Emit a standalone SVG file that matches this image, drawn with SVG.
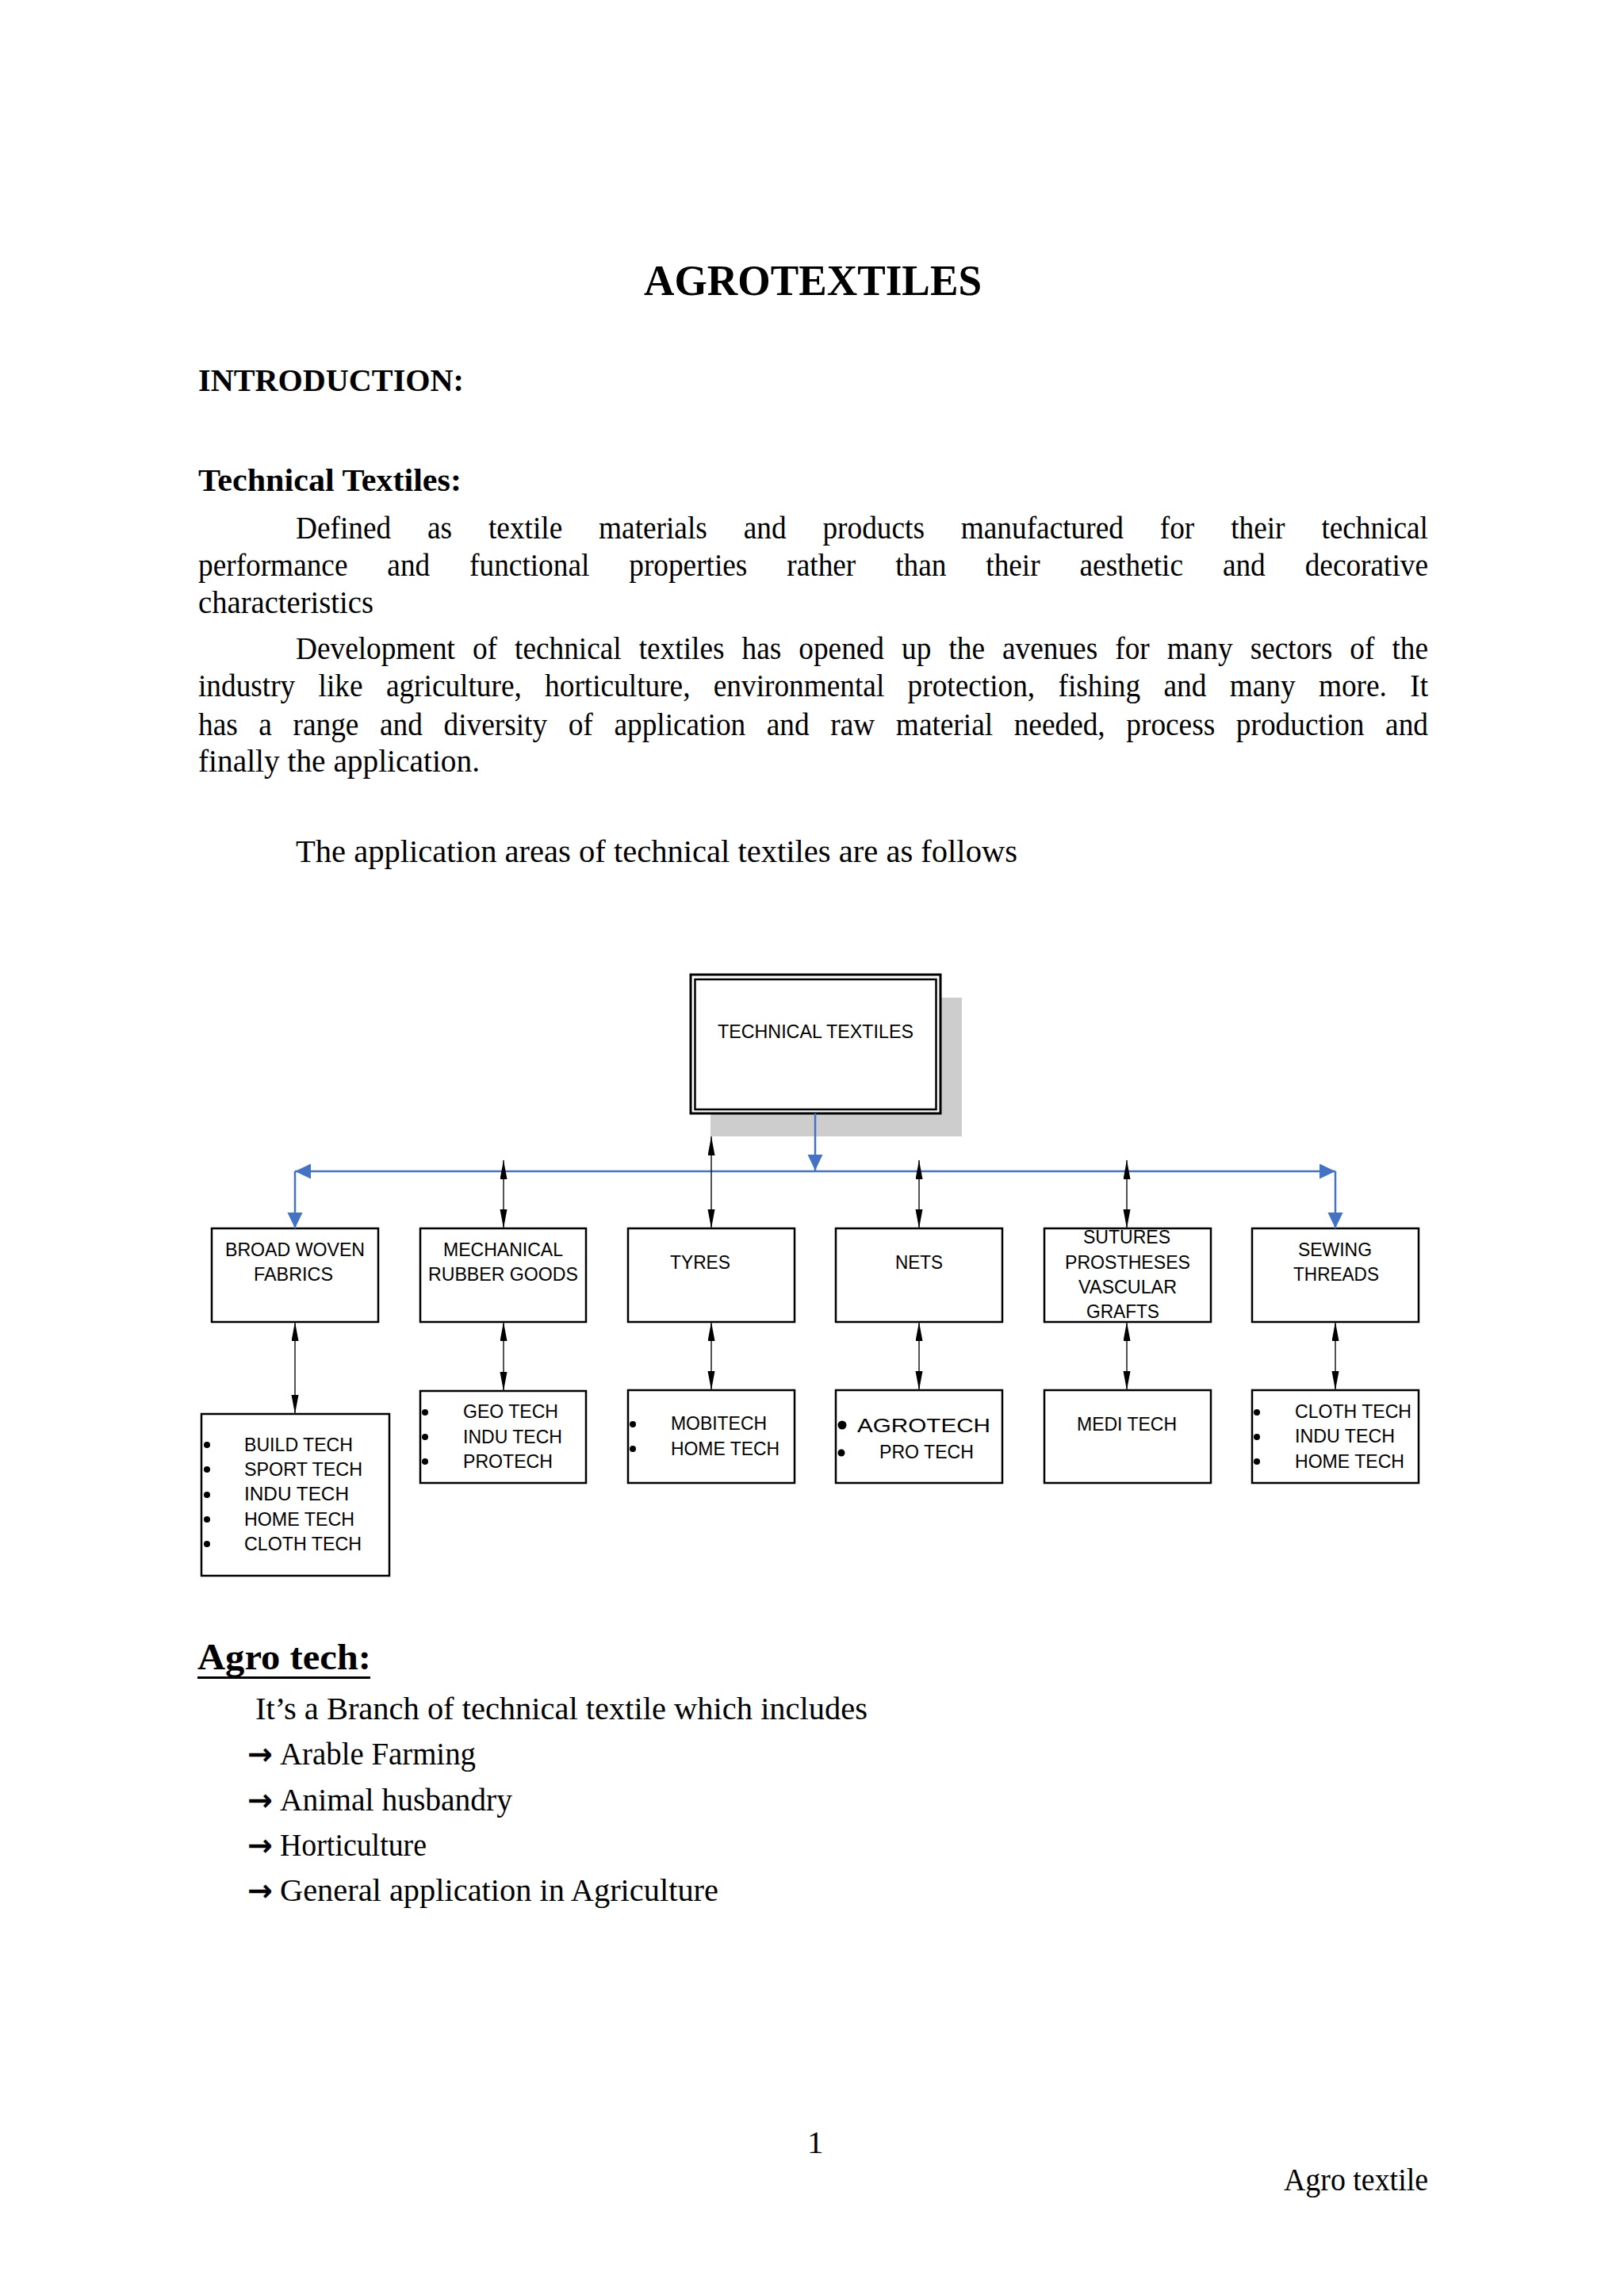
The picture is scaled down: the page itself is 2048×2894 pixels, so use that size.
<svg xmlns="http://www.w3.org/2000/svg" width="2048" height="2894" viewBox="0 0 2048 2894">
<style>
.serif{font-family:"Liberation Serif","Times New Roman",serif;fill:#000}
.body{font-size:41px}
.bold{font-weight:bold}
.lbl{font-family:"Liberation Sans",Arial,sans-serif;font-size:24px;fill:#000}
.box{fill:#fff;stroke:#000;stroke-width:2.5}
.conn{fill:none;stroke:#1a1a1a;stroke-width:1.5}
.blue{fill:none;stroke:#4472C4;stroke-width:2.5}
.dot{fill:#000}
.arrowsym{font-family:"DejaVu Sans",sans-serif;font-weight:bold;font-size:38px;fill:#000}
</style>
<defs>
<marker id="ah" markerUnits="userSpaceOnUse" markerWidth="26" markerHeight="10" refX="24" refY="4.5" orient="auto-start-reverse">
<path d="M0,0 L24,4.5 L0,9 z" fill="#000"/>
</marker>
<marker id="bh" markerUnits="userSpaceOnUse" markerWidth="21" markerHeight="20" refX="20" refY="9.5" orient="auto-start-reverse">
<path d="M0,0 L20,9.5 L0,19 z" fill="#4472C4"/>
</marker>
</defs>
<rect x="0" y="0" width="2048" height="2894" fill="#fff"/>

<g id="page-text">
<text class="serif bold" x="812" y="372" font-size="54" textLength="426" lengthAdjust="spacingAndGlyphs">AGROTEXTILES</text>
<text class="serif bold" x="250" y="493" font-size="41" textLength="335" lengthAdjust="spacingAndGlyphs">INTRODUCTION:</text>
<text class="serif bold" x="250" y="619" font-size="41" textLength="332" lengthAdjust="spacingAndGlyphs">Technical Textiles:</text>
<text class="serif body" x="373" y="679" word-spacing="40.2" textLength="1428" lengthAdjust="spacingAndGlyphs">Defined as textile materials and products manufactured for their technical</text>
<text class="serif body" x="250" y="726" word-spacing="44.6" textLength="1551" lengthAdjust="spacingAndGlyphs">performance and functional properties rather than their aesthetic and decorative</text>
<text class="serif body" x="250" y="773" textLength="221" lengthAdjust="spacingAndGlyphs">characteristics</text>
<text class="serif body" x="373" y="831" word-spacing="14" textLength="1428" lengthAdjust="spacingAndGlyphs">Development of technical textiles has opened up the avenues for many sectors of the</text>
<text class="serif body" x="250" y="878" word-spacing="22" textLength="1551" lengthAdjust="spacingAndGlyphs">industry like agriculture, horticulture, environmental protection, fishing and many more. It</text>
<text class="serif body" x="250" y="927" word-spacing="19" textLength="1551" lengthAdjust="spacingAndGlyphs">has a range and diversity of application and raw material needed, process production and</text>
<text class="serif body" x="250" y="973" textLength="355" lengthAdjust="spacingAndGlyphs">finally  the application.</text>
<text class="serif body" x="373" y="1087" textLength="910" lengthAdjust="spacingAndGlyphs">The application  areas of technical  textiles  are as follows</text>

<text class="serif bold" x="249" y="2105" font-size="46" textLength="219" lengthAdjust="spacingAndGlyphs">Agro tech:</text>
<rect x="249" y="2114" width="218" height="3" fill="#000"/>
<text class="serif body" x="322" y="2168" textLength="772" lengthAdjust="spacingAndGlyphs">It’s a Branch  of technical  textile  which  includes</text>
<text class="arrowsym" x="312" y="2225">→</text>
<text class="serif body" x="353" y="2225" textLength="247" lengthAdjust="spacingAndGlyphs">Arable  Farming</text>
<text class="arrowsym" x="312" y="2283">→</text>
<text class="serif body" x="353" y="2283" textLength="293" lengthAdjust="spacingAndGlyphs">Animal  husbandry</text>
<text class="arrowsym" x="312" y="2340">→</text>
<text class="serif body" x="353" y="2340" textLength="185" lengthAdjust="spacingAndGlyphs">Horticulture</text>
<text class="arrowsym" x="312" y="2397">→</text>
<text class="serif body" x="353" y="2397" textLength="553" lengthAdjust="spacingAndGlyphs">General application  in  Agriculture</text>

<text class="serif body" x="1018" y="2715">1</text>
<text class="serif body" x="1619" y="2762" textLength="182" lengthAdjust="spacingAndGlyphs">Agro  textile</text>
</g>

<g id="node-technical-textiles">
<rect x="896" y="1258" width="317" height="175" fill="#cdcdcd"/>
<rect x="871" y="1229" width="315" height="175" fill="#fff" stroke="#000" stroke-width="3"/>
<rect x="876.5" y="1235" width="304" height="164" fill="none" stroke="#000" stroke-width="2.5"/>
<text class="lbl" x="905" y="1309" font-size="26" textLength="247" lengthAdjust="spacingAndGlyphs">TECHNICAL TEXTILES</text>
</g>

<g id="node-broad-woven">
<rect class="box" x="267" y="1549" width="210" height="118"/>
<text class="lbl" x="284" y="1584" textLength="176" lengthAdjust="spacingAndGlyphs">BROAD WOVEN</text>
<text class="lbl" x="320" y="1615" textLength="100" lengthAdjust="spacingAndGlyphs">FABRICS</text>
</g>
<g id="node-mechanical">
<rect class="box" x="530" y="1549" width="209" height="118"/>
<text class="lbl" x="559" y="1584" textLength="151" lengthAdjust="spacingAndGlyphs">MECHANICAL</text>
<text class="lbl" x="540" y="1615" textLength="189" lengthAdjust="spacingAndGlyphs">RUBBER GOODS</text>
</g>
<g id="node-tyres">
<rect class="box" x="792" y="1549" width="210" height="118"/>
<text class="lbl" x="845" y="1600" textLength="76" lengthAdjust="spacingAndGlyphs">TYRES</text>
</g>
<g id="node-nets">
<rect class="box" x="1054" y="1549" width="210" height="118"/>
<text class="lbl" x="1129" y="1600" textLength="60" lengthAdjust="spacingAndGlyphs">NETS</text>
</g>
<g id="node-sutures">
<rect class="box" x="1317" y="1549" width="210" height="118"/>
<text class="lbl" x="1366" y="1568" textLength="110" lengthAdjust="spacingAndGlyphs">SUTURES</text>
<text class="lbl" x="1343" y="1600" textLength="158" lengthAdjust="spacingAndGlyphs">PROSTHESES</text>
<text class="lbl" x="1360" y="1631" textLength="124" lengthAdjust="spacingAndGlyphs">VASCULAR</text>
<text class="lbl" x="1370" y="1662" textLength="92" lengthAdjust="spacingAndGlyphs">GRAFTS</text>
</g>
<g id="node-sewing">
<rect class="box" x="1579" y="1549" width="210" height="118"/>
<text class="lbl" x="1637" y="1584" textLength="93" lengthAdjust="spacingAndGlyphs">SEWING</text>
<text class="lbl" x="1631" y="1615" textLength="108" lengthAdjust="spacingAndGlyphs">THREADS</text>
</g>

<g id="node-build-tech">
<rect class="box" x="254" y="1783" width="237" height="204"/>
<circle class="dot" cx="261" cy="1822" r="4"/>
<circle class="dot" cx="261" cy="1853" r="4"/>
<circle class="dot" cx="261" cy="1885" r="4"/>
<circle class="dot" cx="261" cy="1916" r="4"/>
<circle class="dot" cx="261" cy="1947" r="4"/>
<text class="lbl" x="308" y="1830" textLength="137" lengthAdjust="spacingAndGlyphs">BUILD TECH</text>
<text class="lbl" x="308" y="1861" textLength="149" lengthAdjust="spacingAndGlyphs">SPORT TECH</text>
<text class="lbl" x="308" y="1892" textLength="132" lengthAdjust="spacingAndGlyphs">INDU  TECH</text>
<text class="lbl" x="308" y="1924" textLength="139" lengthAdjust="spacingAndGlyphs">HOME TECH</text>
<text class="lbl" x="308" y="1955" textLength="148" lengthAdjust="spacingAndGlyphs">CLOTH TECH</text>
</g>
<g id="node-geo-tech">
<rect class="box" x="530" y="1754" width="209" height="116"/>
<circle class="dot" cx="536" cy="1781" r="4"/>
<circle class="dot" cx="536" cy="1812" r="4"/>
<circle class="dot" cx="536" cy="1843" r="4"/>
<text class="lbl" x="584" y="1788" textLength="120" lengthAdjust="spacingAndGlyphs">GEO TECH</text>
<text class="lbl" x="584" y="1820" textLength="125" lengthAdjust="spacingAndGlyphs">INDU TECH</text>
<text class="lbl" x="584" y="1851" textLength="113" lengthAdjust="spacingAndGlyphs">PROTECH</text>
</g>
<g id="node-mobitech">
<rect class="box" x="792" y="1753" width="210" height="117"/>
<circle class="dot" cx="798" cy="1796" r="4"/>
<circle class="dot" cx="798" cy="1827" r="4"/>
<text class="lbl" x="846" y="1803" textLength="121" lengthAdjust="spacingAndGlyphs">MOBITECH</text>
<text class="lbl" x="846" y="1835" textLength="137" lengthAdjust="spacingAndGlyphs">HOME TECH</text>
</g>
<g id="node-agrotech">
<rect class="box" x="1054" y="1753" width="210" height="117"/>
<circle class="dot" cx="1062" cy="1797" r="5.5"/>
<circle class="dot" cx="1061" cy="1832" r="4.5"/>
<text class="lbl" x="1081" y="1806" font-size="31" textLength="168" lengthAdjust="spacingAndGlyphs">AGROTECH</text>
<text class="lbl" x="1109" y="1839" textLength="119" lengthAdjust="spacingAndGlyphs">PRO TECH</text>
</g>
<g id="node-meditech">
<rect class="box" x="1317" y="1753" width="210" height="117"/>
<text class="lbl" x="1358" y="1804" textLength="126" lengthAdjust="spacingAndGlyphs">MEDI TECH</text>
</g>
<g id="node-clothtech">
<rect class="box" x="1579" y="1753" width="210" height="117"/>
<circle class="dot" cx="1585" cy="1781" r="4"/>
<circle class="dot" cx="1585" cy="1812" r="4"/>
<circle class="dot" cx="1585" cy="1843" r="4"/>
<text class="lbl" x="1633" y="1788" textLength="147" lengthAdjust="spacingAndGlyphs">CLOTH TECH</text>
<text class="lbl" x="1633" y="1819" textLength="126" lengthAdjust="spacingAndGlyphs">INDU TECH</text>
<text class="lbl" x="1633" y="1851" textLength="138" lengthAdjust="spacingAndGlyphs">HOME TECH</text>
</g>

<g id="connectors">
<line class="blue" x1="1028" y1="1404" x2="1028" y2="1476" marker-end="url(#bh)"/>
<line class="blue" x1="372" y1="1477" x2="1684" y2="1477" marker-start="url(#bh)" marker-end="url(#bh)"/>
<line class="blue" x1="372" y1="1477" x2="372" y2="1549" marker-end="url(#bh)"/>
<line class="blue" x1="1684" y1="1477" x2="1684" y2="1549" marker-end="url(#bh)"/>
<line class="conn" x1="635" y1="1463" x2="635" y2="1549" marker-start="url(#ah)" marker-end="url(#ah)"/>
<line class="conn" x1="897" y1="1433" x2="897" y2="1549" marker-start="url(#ah)" marker-end="url(#ah)"/>
<line class="conn" x1="1159" y1="1463" x2="1159" y2="1549" marker-start="url(#ah)" marker-end="url(#ah)"/>
<line class="conn" x1="1421" y1="1463" x2="1421" y2="1549" marker-start="url(#ah)" marker-end="url(#ah)"/>
<line class="conn" x1="372" y1="1667" x2="372" y2="1783" marker-start="url(#ah)" marker-end="url(#ah)"/>
<line class="conn" x1="635" y1="1667" x2="635" y2="1754" marker-start="url(#ah)" marker-end="url(#ah)"/>
<line class="conn" x1="897" y1="1667" x2="897" y2="1753" marker-start="url(#ah)" marker-end="url(#ah)"/>
<line class="conn" x1="1159" y1="1667" x2="1159" y2="1753" marker-start="url(#ah)" marker-end="url(#ah)"/>
<line class="conn" x1="1421" y1="1667" x2="1421" y2="1753" marker-start="url(#ah)" marker-end="url(#ah)"/>
<line class="conn" x1="1684" y1="1667" x2="1684" y2="1753" marker-start="url(#ah)" marker-end="url(#ah)"/>
</g>
</svg>
